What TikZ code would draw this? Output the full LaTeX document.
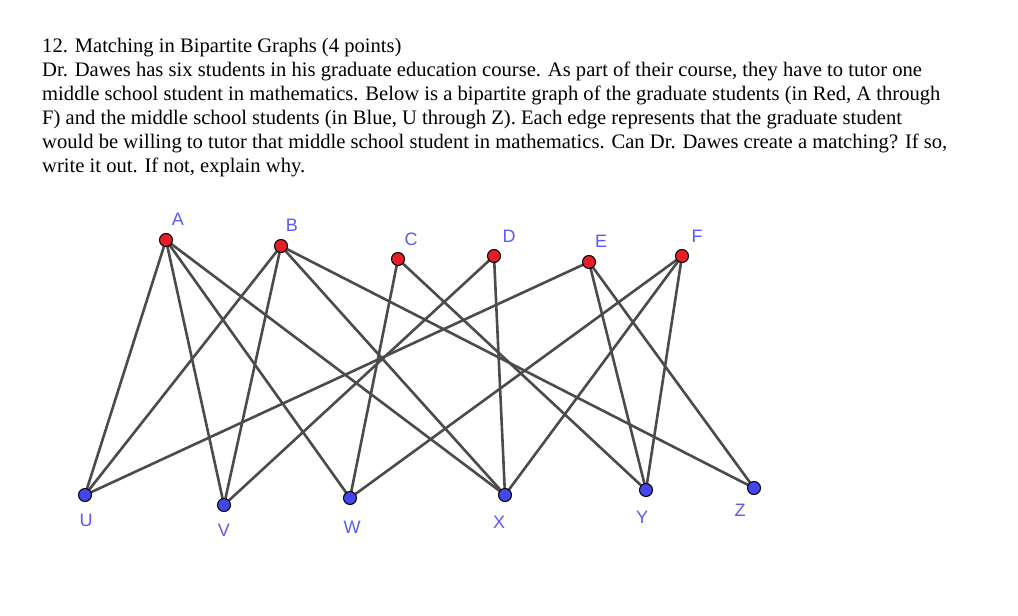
\documentclass[tikz,border=0pt]{standalone}
\usepackage{fontspec}
\setmainfont{Liberation Serif}
\setsansfont{Liberation Sans}
\definecolor{rd}{RGB}{230,30,40}
\definecolor{bl}{RGB}{70,70,240}
\definecolor{lab}{RGB}{90,90,250}
\definecolor{edge}{RGB}{75,75,75}
\begin{document}
\begin{tikzpicture}[x=1pt,y=-1pt,
  txt/.style={anchor=base west,inner sep=0pt,font=\fontsize{20.6}{22}\selectfont},
  rv/.style={circle,draw=black,fill=rd,inner sep=0pt,minimum size=13pt,line width=1pt},
  bv/.style={circle,draw=black,fill=bl,inner sep=0pt,minimum size=13pt,line width=1pt},
  lb/.style={inner sep=0pt,text=lab,font=\sffamily\fontsize{18}{18}\selectfont},
  ed/.style={draw=edge,line width=2.6pt}]
\useasboundingbox (0,0) rectangle (1018,616);
\fill[white] (0,0) rectangle (1018,616);
\node[txt] (t1) at (42,52) {12. Matching in Bipartite Graphs (4 points)};
\node[txt] (t2) at (42,76) {Dr. Dawes has six students in his graduate education course. As part of their course, they have to tutor one};
\node[txt] (t3) at (42,100) {middle school student in mathematics. Below is a bipartite graph of the graduate students (in Red, A through};
\node[txt] (t4) at (42,124) {F) and the middle school students (in Blue, U through Z). Each edge represents that the graduate student};
\node[txt] (t5) at (42,148) {would be willing to tutor that middle school student in mathematics. Can Dr. Dawes create a matching? If so,};
\node[txt] (t6) at (42,172) {write it out. If not, explain why.};
\coordinate (A) at (166,240); \coordinate (B) at (281,246); \coordinate (C) at (398,259);
\coordinate (D) at (494,256); \coordinate (E) at (589,262); \coordinate (F) at (682,256);
\coordinate (U) at (85,495); \coordinate (V) at (224,505); \coordinate (W) at (350,498);
\coordinate (X) at (505,495); \coordinate (Y) at (646,490); \coordinate (Z) at (754,488);
\foreach \a/\b in {A/U,A/V,A/W,A/X,B/U,B/V,B/X,B/Z,C/W,C/Y,D/V,D/X,E/U,E/Y,E/Z,F/W,F/X,F/Y}
  \draw[ed] (\a) -- (\b);
\foreach \n in {A,B,C,D,E,F} \node[rv] (n\n) at (\n) {};
\foreach \n in {U,V,W,X,Y,Z} \node[bv] (n\n) at (\n) {};
\node[lb] (lA) at (178,219) {A}; \node[lb] (lB) at (292,225) {B}; \node[lb] (lC) at (411,239) {C};
\node[lb] (lD) at (509,236) {D}; \node[lb] (lE) at (601,241) {E}; \node[lb] (lF) at (697,236) {F};
\node[lb] (lU) at (86,520) {U}; \node[lb] (lV) at (224,530) {V}; \node[lb] (lW) at (352,527) {W};
\node[lb] (lX) at (499,522) {X}; \node[lb] (lY) at (642,517) {Y}; \node[lb] (lZ) at (740,510) {Z};
\end{tikzpicture}
\end{document}
